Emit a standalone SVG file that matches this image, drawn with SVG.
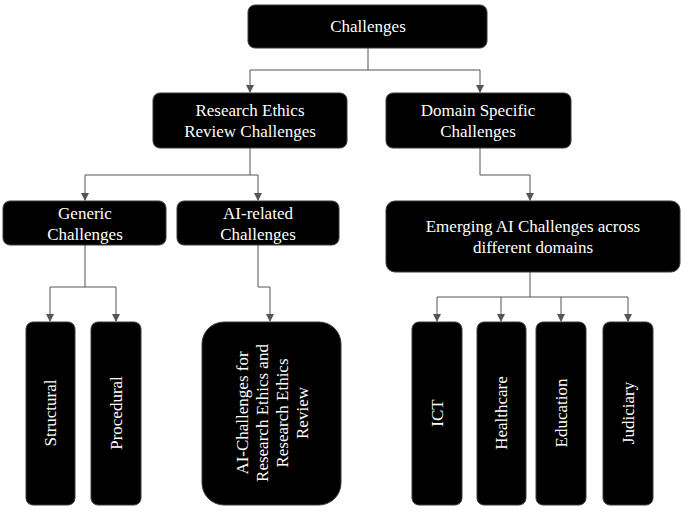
<svg xmlns="http://www.w3.org/2000/svg" width="685" height="511" viewBox="0 0 685 511">
<style>
.b{fill:#000;stroke:#3a3a3a;stroke-width:1}
.t{fill:#fff;font-family:"Liberation Serif","Times New Roman",serif;font-size:17px;text-anchor:middle}
.c{fill:none;stroke:#555;stroke-width:1}
</style>
<defs><marker id="a" markerWidth="8" markerHeight="8" refX="7" refY="4" orient="auto" markerUnits="userSpaceOnUse"><path d="M0,0 L8,4 L0,8 z" fill="#555"/></marker></defs>
<rect width="685" height="511" fill="#fff"/>
<g id="connectors">
<path class="c" d="M368,48 V70 H250 V92" marker-end="url(#a)"/>
<path class="c" d="M368,70 H480 V92" marker-end="url(#a)"/>
<path class="c" d="M250,148 V175 H85 V200" marker-end="url(#a)"/>
<path class="c" d="M250,175 H258 V200" marker-end="url(#a)"/>
<path class="c" d="M480,148 V175 H530 V200" marker-end="url(#a)"/>
<path class="c" d="M85,245 V287 H50 V321" marker-end="url(#a)"/>
<path class="c" d="M85,287 H116 V321" marker-end="url(#a)"/>
<path class="c" d="M258,245 V287 H270 V321" marker-end="url(#a)"/>
<path class="c" d="M530,272 V297 H437 V321" marker-end="url(#a)"/>
<path class="c" d="M530,297 H628 V321" marker-end="url(#a)"/>
<path class="c" d="M501,297 V321" marker-end="url(#a)"/>
<path class="c" d="M561,297 V321" marker-end="url(#a)"/>
</g>
<g id="challenges"><rect class="b" x="248" y="5" width="239" height="43" rx="7"/><text class="t" x="368" y="32">Challenges</text></g>
<g id="rer"><rect class="b" x="153" y="93" width="194" height="55" rx="7"/><text class="t" x="250" y="116">Research Ethics</text><text class="t" x="250" y="137">Review Challenges</text></g>
<g id="domain"><rect class="b" x="386" y="93" width="185" height="55" rx="7"/><text class="t" x="478" y="116">Domain Specific</text><text class="t" x="478" y="137">Challenges</text></g>
<g id="generic"><rect class="b" x="3" y="201" width="163" height="44" rx="7"/><text class="t" x="85" y="219">Generic</text><text class="t" x="85" y="240">Challenges</text></g>
<g id="airelated"><rect class="b" x="177" y="201" width="162" height="44" rx="7"/><text class="t" x="258" y="219">AI-related</text><text class="t" x="258" y="240">Challenges</text></g>
<g id="emerging"><rect class="b" x="386" y="201" width="294" height="71" rx="9"/><text class="t" x="533" y="232">Emerging AI Challenges across</text><text class="t" x="533" y="253">different domains</text></g>
<g id="structural"><rect class="b" x="26" y="322" width="49" height="183" rx="7"/><text class="t" transform="translate(56,413) rotate(-90)">Structural</text></g>
<g id="procedural"><rect class="b" x="91" y="322" width="50" height="183" rx="7"/><text class="t" transform="translate(122,413) rotate(-90)">Procedural</text></g>
<g id="aich"><rect class="b" x="202" y="322" width="139" height="183" rx="22"/><text class="t" transform="translate(248,413) rotate(-90)">AI-Challenges for</text><text class="t" transform="translate(268,413) rotate(-90)">Research Ethics and</text><text class="t" transform="translate(288,413) rotate(-90)">Research Ethics</text><text class="t" transform="translate(308,413) rotate(-90)">Review</text></g>
<g id="ict"><rect class="b" x="412" y="322" width="50" height="183" rx="7"/><text class="t" transform="translate(443,413) rotate(-90)">ICT</text></g>
<g id="healthcare"><rect class="b" x="477" y="322" width="49" height="183" rx="7"/><text class="t" transform="translate(507,413) rotate(-90)">Healthcare</text></g>
<g id="education"><rect class="b" x="536" y="322" width="50" height="183" rx="7"/><text class="t" transform="translate(567,413) rotate(-90)">Education</text></g>
<g id="judiciary"><rect class="b" x="603" y="322" width="50" height="183" rx="7"/><text class="t" transform="translate(634,413) rotate(-90)">Judiciary</text></g>
</svg>
